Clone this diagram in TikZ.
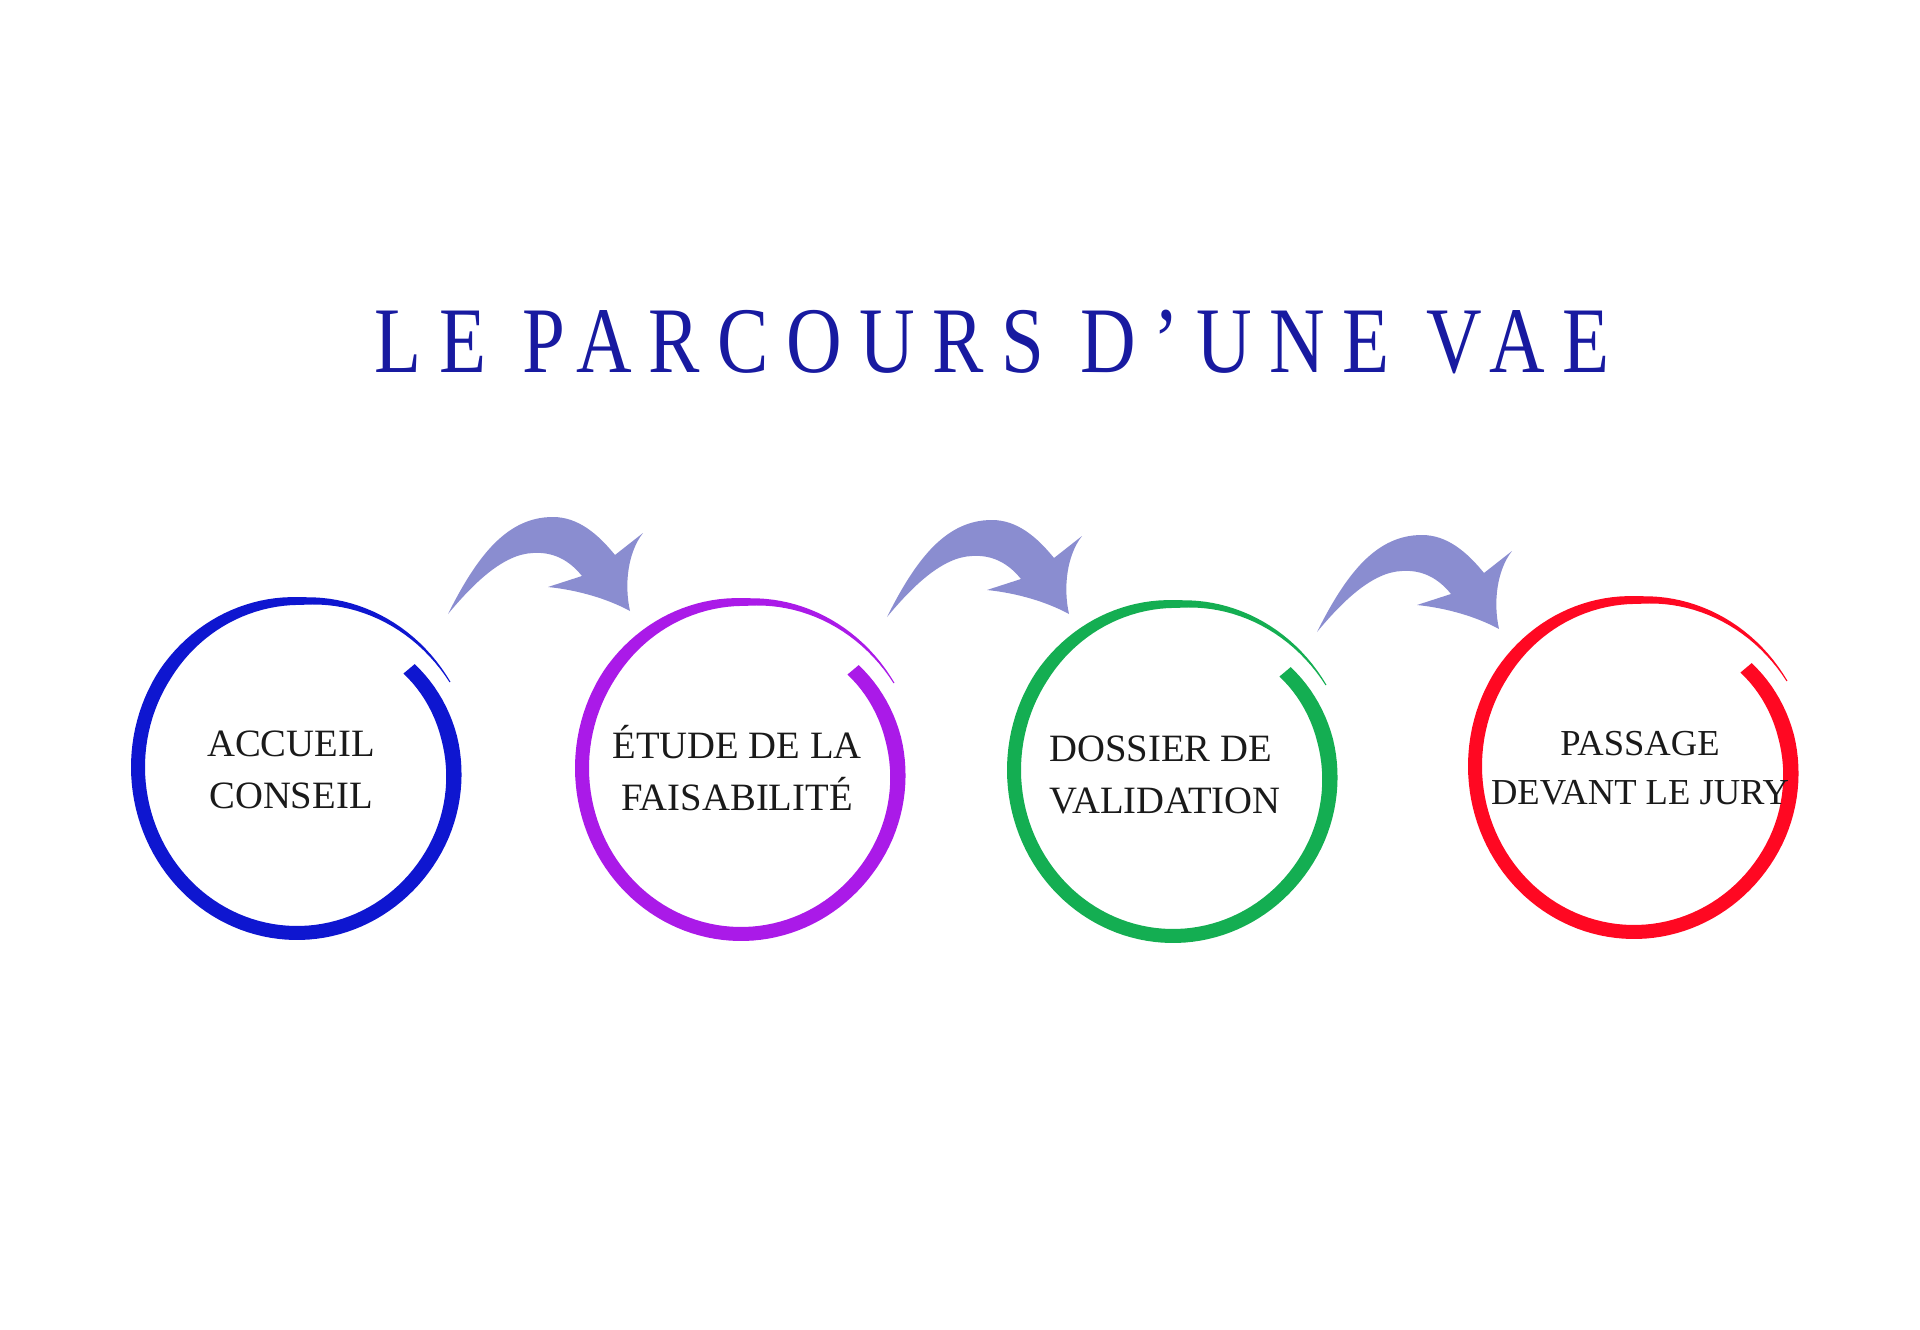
\documentclass[tikz,border=0pt]{standalone}
\usepackage{fontspec}
\setmainfont{Liberation Serif}
\newfontfamily\titlefont[FakeStretch=0.82,LetterSpace=18.5]{Liberation Serif}

\definecolor{vaeblue}{RGB}{14,22,208}
\definecolor{vaepurple}{RGB}{170,26,232}
\definecolor{vaegreen}{RGB}{20,174,82}
\definecolor{vaered}{RGB}{255,8,34}
\definecolor{arrowlilac}{RGB}{138,141,208}
\definecolor{titleblue}{RGB}{24,26,160}
\definecolor{inkblack}{RGB}{26,26,26}

\begin{document}
\begin{tikzpicture}[x=0.01cm, y=-0.01cm,
  declare function={fr(\t)=1+0.09*max(0,1-(\t-28)/60)-0.08*(max(0,(\t-330)/70))^2;
                    bw(\t)=min(14,1+0.11*(\t-28))+2*(max(0,1-abs(\t-370)/70))^2;}]
\pgfmathsetmacro{\RX}{159}
\pgfmathsetmacro{\RY}{166}


\tikzset{
  steptext/.style={text=inkblack, align=center, inner sep=0pt,
  font=\fontsize{11}{14.8}\selectfont},
  arrowshape/.style={fill=arrowlilac},
}

\fill[white] (0,0) rectangle (1920,1330);

\node[text=titleblue, anchor=base, font=\titlefont\fontsize{26.7}{30}\selectfont] (title) at (992,372) {LE PARCOURS D’UNE VAE};

% brush circles, open at the top right
\foreach \cx/\cy/\col in {297/767/vaeblue, 741/768/vaepurple, 1173/770/vaegreen, 1634/766/vaered}{
  \fill[\col] plot[domain=28:400, samples=140, variable=\t] ({\cx+(\RX*fr(\t)+bw(\t)/2)*cos(\t)}, {\cy-(\RY*fr(\t)+bw(\t)/2)*sin(\t)})
    -- plot[domain=400:28, samples=140, variable=\t] ({\cx+(\RX*fr(\t)-bw(\t)/2)*cos(\t)}, {\cy-(\RY*fr(\t)-bw(\t)/2)*sin(\t)}) -- cycle;
}

\node[steptext] (accueil) at (291,770) {ACCUEIL\\CONSEIL};
\node[steptext] (etude) at (737,768) {ÉTUDE DE LA\\FAISABILITÉ};
\node[steptext, align=left] (dossier) at (1165,775) {DOSSIER DE\\VALIDATION};
\node[steptext, font=\fontsize{10.4}{13.9}\selectfont] (passage) at (1640,768) {PASSAGE\\DEVANT LE JURY};

% curved arrows between the steps
\foreach \tx/\ty in {448/614, 887/617, 1317/632}
  \fill[arrowshape, shift={(\tx,\ty)}] (0,0) .. controls (30,-60) and (60,-97) .. (105,-97)
    .. controls (130,-97) and (150,-80) .. (167,-59) -- (195,-81)
    .. controls (180,-62) and (176,-30) .. (182,-3)
    .. controls (160,-15) and (130,-24) .. (100,-27) -- (134,-38)
    .. controls (118,-58) and (100,-62) .. (85,-61)
    .. controls (55,-60) and (25,-30) .. (0,0) -- cycle;
\end{tikzpicture}
\end{document}
